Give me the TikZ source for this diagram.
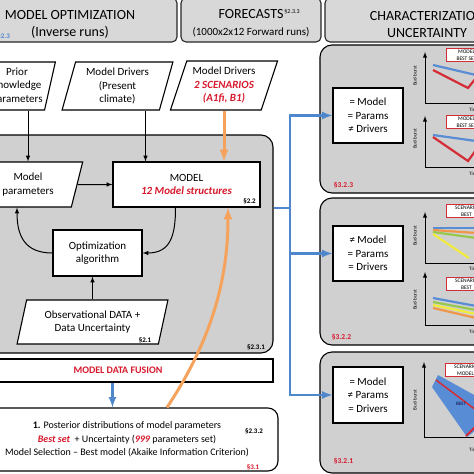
\documentclass[tikz,border=0pt]{standalone}
\usepackage{fontspec}
\setmainfont{Carlito}
\usetikzlibrary{shapes.geometric}
\definecolor{panelgray}{RGB}{208,208,208}
\definecolor{headgray}{RGB}{216,216,216}
\definecolor{flowblue}{RGB}{79,135,205}
\definecolor{floworange}{RGB}{245,162,92}
\definecolor{textred}{RGB}{215,25,45}
\definecolor{chartblue}{RGB}{88,140,212}
\definecolor{chartred}{RGB}{212,45,55}
\definecolor{chartgreen}{RGB}{150,200,80}
\definecolor{chartyellow}{RGB}{240,236,60}
\definecolor{chartorange}{RGB}{240,150,75}
\definecolor{bestblue}{RGB}{30,45,110}
\newcommand{\redtxt}[1]{\textcolor{textred}{\bfseries\itshape #1}}

\begin{document}
\begin{tikzpicture}[x=1pt,y=-1pt,
 box/.style={draw=black,line width=1.1pt,fill=white,align=center,inner sep=2pt,font=\fontsize{11}{13.5}\selectfont},
 para/.style={box,trapezium,trapezium left angle=75,trapezium right angle=105,trapezium stretches=true},
 panel/.style={draw=black,line width=1.1pt,fill=panelgray,rounded corners=12pt},
 headbox/.style={draw=black!85,line width=1.1pt,fill=headgray,rounded corners=5pt,minimum height=44pt},
 headtxt/.style={align=center,font=\fontsize{14}{17}\selectfont},
 sect/.style={font=\bfseries\fontsize{7}{8}\selectfont,inner sep=0pt},
 arr/.style={-latex,line width=1pt},
 bluearr/.style={-latex,draw=flowblue,line width=2.5pt},
 orangearr/.style={-latex,draw=floworange,line width=3pt},
 axis/.style={-latex,line width=0.9pt},
 chartline/.style={line width=2.2pt},
 chartlabel/.style={draw=chartred,line width=1pt,fill=white,align=center,font=\fontsize{5.5}{6.5}\selectfont,inner sep=1.5pt,anchor=north west,minimum width=40pt},
 tinytxt/.style={font=\fontsize{5}{6}\selectfont,inner sep=0pt}]
 \useasboundingbox (0,0) rectangle (474,474);
 \clip (0,0) rectangle (474,474);
 % headers
 \node[headbox,minimum width=214pt] (hopt) at (70,20) {};
 \node[headbox,minimum width=140pt] (hfor) at (251,20) {};
 \node[headbox,minimum width=204pt] (hchar) at (427,20) {};
 \node[headtxt] (hopttxt) at (70,24.5) {MODEL OPTIMIZATION\\(Inverse runs)};
 \node[headtxt] (hfortxt) at (251,23) {FORECASTS\rlap{\textsuperscript{\fontsize{6}{7}\selectfont\,§2.3.3}}\\{\fontsize{11}{13}\selectfont (1000x2x12 Forward runs)}};
 \node[headtxt] (hchartxt) at (427,24.5) {CHARACTERIZATION\\UNCERTAINTY};
 \node[sect,text=flowblue,anchor=east] (s23) at (10,36) {§2.3};
 % panels
 \node[panel,minimum width=303pt,minimum height=218pt] (optpanel) at (121.5,244) {};
 \node[panel,minimum width=200pt,minimum height=148pt] (panA) at (420,119) {};
 \node[panel,minimum width=200pt,minimum height=147pt] (panB) at (420,271.5) {};
 \node[panel,minimum width=200pt,minimum height=121pt] (panC) at (420,412.5) {};
 % model optimization
 \node[para,minimum width=76pt,minimum height=48pt] (prior) at (17,86) {Prior\\knowledge\\parameters};
 \node[para,minimum width=111pt,minimum height=48pt] (drivers) at (117.5,86) {Model Drivers\\(Present\\climate)};
 \node[para,trapezium left angle=70,trapezium right angle=110,minimum width=108pt,minimum height=49pt] (scen) at (224,85.5) {Model Drivers\\\redtxt{2 SCENARIOS}\\\redtxt{(A1fi, B1)}};
 \node[para,minimum width=110pt,minimum height=45pt] (params) at (28,184.5) {Model\\parameters};
 \node[box,minimum width=147pt,minimum height=45pt] (model) at (186.5,184.5) {MODEL\\\redtxt{12 Model structures}};
 \node[box,minimum width=89pt,minimum height=46pt] (optim) at (97.5,253) {Optimization\\algorithm};
 \node[para,minimum width=151pt,minimum height=44pt] (obs) at (92.5,322) {Observational DATA +\\Data Uncertainty};
 \node[sect] (s22) at (249.5,201) {§2.2};
 \node[sect] (s21) at (145,340) {§2.1};
 \node[sect] (s231) at (256,347) {§2.3.1};
 \node[box,line width=1.5pt,minimum width=310pt,minimum height=23pt,font=\bfseries\fontsize{10}{12}\selectfont,text=textred] (fusion) at (118,370.5) {MODEL DATA FUSION};
 \node[box,rounded corners=10pt,minimum width=302pt,minimum height=63pt,font=\fontsize{10}{13.5}\selectfont] (results) at (127,439.5) {\textbf{1.} Posterior distributions of model parameters\\\redtxt{Best set}\ \ + Uncertainty (\redtxt{999} parameters set)\hspace*{28pt}\\Model Selection -- Best model (Akaike Information Criterion)};
 \node[sect] (s232) at (254,431) {§2.3.2};
 \node[sect,text=textred] (s31) at (253,467) {§3.1};
 \draw[arr] (params.north |- prior.south) -- (params.north);
 \draw[arr] ([xshift=28pt]drivers.south) -- ([xshift=28pt]drivers.south |- model.north);
 \draw[arr] (params.east) -- (model.west);
 \draw[arr] (optim.west) .. controls +(-28,0) and +(0,28) .. ([xshift=-11pt]params.south);
 \draw[arr] ([xshift=-11pt]model.south) .. controls +(0,28) and +(28,0) .. (optim.east);
 \draw[arr] (obs.north) -- (obs.north |- optim.south);
 \draw[orangearr] (scen.south) -- (scen.south |- model.north);
 \draw[orangearr] ([xshift=40pt]results.north) .. controls (205,350) and (228,290) .. ([xshift=41.5pt]model.south);
 \draw[bluearr] (fusion.south -| model.west) -- (results.north -| model.west);
 % uncertainty
 \node[box,minimum width=70pt,minimum height=55pt] (boxA) at (368,115.5) {= Model\\= Params\\≠ Drivers};
 \node[box,minimum width=70pt,minimum height=55pt] (boxB) at (368,253.5) {≠ Model\\= Params\\= Drivers};
 \node[box,minimum width=70pt,minimum height=56pt] (boxC) at (368,395) {= Model\\≠ Params\\= Drivers};
 \node[sect,text=textred,font=\bfseries\fontsize{7.5}{8}\selectfont] (s323) at (343.5,185) {§3.2.3};
 \node[sect,text=textred,font=\bfseries\fontsize{7.5}{8}\selectfont] (s322) at (341.5,337) {§3.2.2};
 \node[sect,text=textred,font=\bfseries\fontsize{7.5}{8}\selectfont] (s321) at (343.5,461) {§3.2.1};
 \coordinate (split) at (290,208);
 \draw[flowblue,line width=2.5pt] ([yshift=36pt]optpanel.east) -- (split);
 \draw[bluearr] (split) |- (boxA.west);
 \draw[bluearr] (split) |- (boxB.west);
 \draw[bluearr] (split) |- (boxC.west);
 % charts
 \draw[axis] (480,103) -- (425,103) -- (425,52);
 \draw[axis] (480,167) -- (425,167) -- (425,116);
 \draw[axis] (480,263) -- (425,263) -- (425,212);
 \draw[axis] (480,325) -- (425,325) -- (425,272);
 \draw[axis] (480,437) -- (424,437) -- (424,362);
 \node[tinytxt,rotate=90] (bbA1) at (415,76) {Bud-burst};
 \node[tinytxt,rotate=90] (bbA2) at (415,139) {Bud-burst};
 \node[tinytxt,rotate=90] (bbB1) at (415,236) {Bud-burst};
 \node[tinytxt,rotate=90] (bbB2) at (415,300) {Bud-burst};
 \node[tinytxt,rotate=90] (bbC) at (415,400) {Bud-burst};
 \node[tinytxt,anchor=west] (tA1) at (469,110) {Time};
 \node[tinytxt,anchor=west] (tA2) at (469,174) {Time};
 \node[tinytxt,anchor=west] (tB1) at (469,269) {Time};
 \node[tinytxt,anchor=west] (tB2) at (469,332) {Time};
 \node[tinytxt,anchor=west] (tC) at (469,450) {Time};
 \draw[chartline,chartblue] (433,65) -- (476,75);
 \draw[chartline,chartred] (433,70) -- (468,88) -- (476,78);
 \draw[chartline,chartblue] (433,135) -- (476,141);
 \draw[chartline,chartred] (433,137) -- (468,161) -- (476,150);
 \draw[chartline,chartblue] (433,228) -- (476,228);
 \draw[chartline,chartorange] (433,230) -- (476,233);
 \draw[chartline,chartgreen] (433,232) -- (476,238);
 \draw[chartline,chartyellow] (433,234) -- (469,258);
 \draw[chartline,chartblue] (433,298) -- (476,306);
 \draw[chartline,chartgreen] (433,302) -- (476,310);
 \draw[chartline,chartyellow] (433,305) -- (476,314);
 \draw[chartline,chartorange] (433,308) -- (476,318);
 \fill[chartblue] (432,387) -- (438,375) -- (476,396) -- (476,430) -- (467,437) -- cycle;
 \draw[chartred,line width=1.5pt] (436,380) -- (476,410);
 \draw[chartred,line width=2pt] (466,436) -- (476,426);
 \node[font=\bfseries\fontsize{5}{6}\selectfont,text=bestblue,inner sep=0pt] (bestC) at (461,404) {BEST};
 \node[chartlabel] (labA1) at (446,48) {MODEL\\BEST SET};
 \node[chartlabel] (labA2) at (446,115) {MODEL\\BEST SET};
 \node[chartlabel] (labB1) at (446,204) {SCENARIO\\BEST};
 \node[chartlabel] (labB2) at (446,277) {SCENARIO\\BEST};
 \node[chartlabel] (labC) at (445,363) {SCENARIO\\MODEL};
\end{tikzpicture}
\end{document}
